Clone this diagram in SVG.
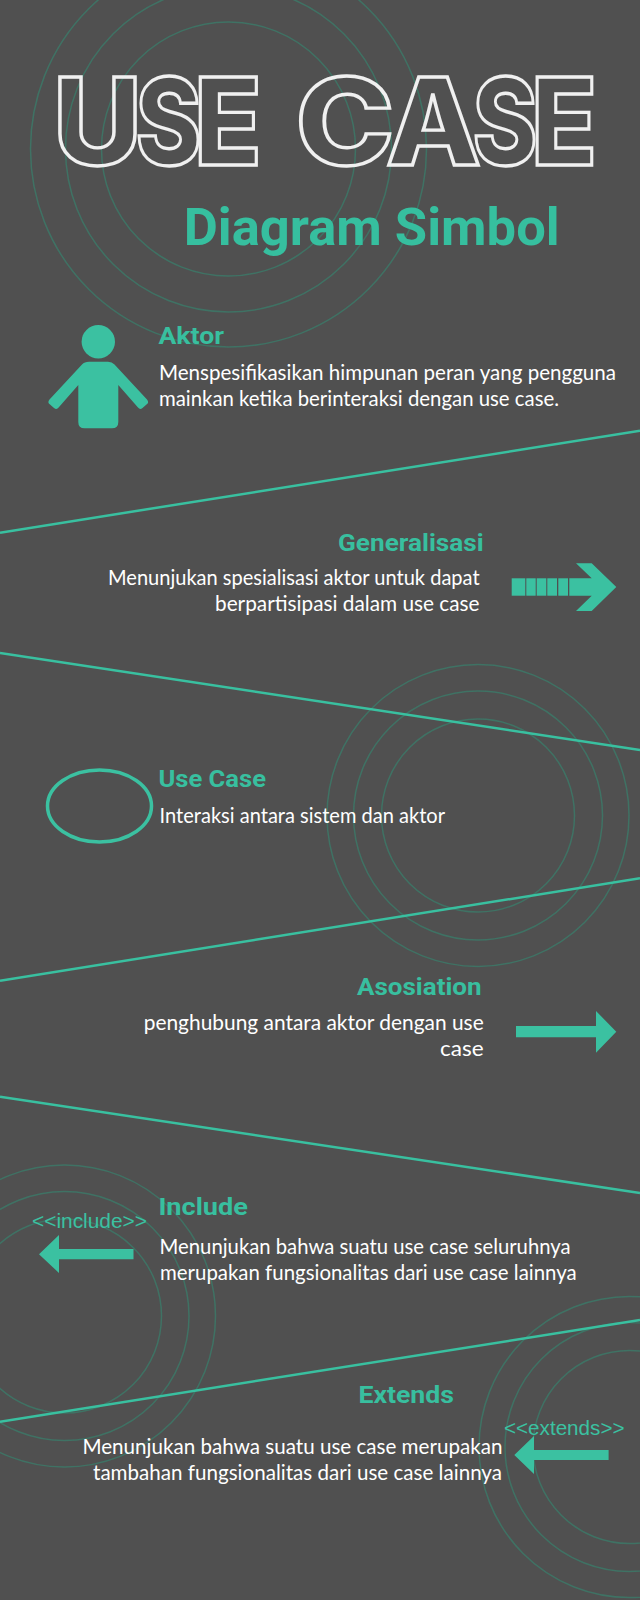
<svg xmlns="http://www.w3.org/2000/svg" width="640" height="1600" viewBox="0 0 640 1600">
<style>
.ring{fill:none;stroke:#3f7264;stroke-width:1.5}
.rule{stroke:#39c0a0;stroke-width:2.5;fill:none}
.teal{fill:#3bc1a1}
.big{font-family:"Inter","Liberation Sans",sans-serif;font-weight:800;font-size:120.6px;fill:none;stroke:#f0f0f0;stroke-width:3.4}
.head{font-family:"Roboto","Liberation Sans",sans-serif;font-weight:700;font-size:24.5px;fill:#38bf9f}
.body{font-family:"Lato","Liberation Sans",sans-serif;font-weight:400;font-size:21.5px;fill:#fff}
.tag{font-family:"Liberation Sans",sans-serif;font-size:21px;fill:#3bc1a1}
</style>
<rect width="640" height="1600" fill="#505050"/>
<g id="rings">
<circle class="ring" cx="228.5" cy="149" r="198"/><circle class="ring" cx="228.5" cy="149" r="163"/><circle class="ring" cx="228.5" cy="149" r="127"/>
<circle class="ring" cx="478" cy="815.5" r="151"/><circle class="ring" cx="478" cy="815.5" r="124.5"/><circle class="ring" cx="478" cy="815.5" r="96.5"/>
<circle class="ring" cx="64.5" cy="1316" r="151"/><circle class="ring" cx="64.5" cy="1316" r="124.5"/><circle class="ring" cx="64.5" cy="1316" r="97"/>
<circle class="ring" cx="629.5" cy="1447" r="150.5"/><circle class="ring" cx="629.5" cy="1447" r="124.5"/><circle class="ring" cx="629.5" cy="1447" r="96.5"/>
</g>
<g id="connectors">
<line class="rule" x1="0" y1="532.7" x2="640" y2="430.7"/>
<line class="rule" x1="0" y1="653" x2="640" y2="750"/>
<line class="rule" x1="0" y1="980.7" x2="640" y2="878.3"/>
<line class="rule" x1="0" y1="1096.7" x2="640" y2="1193"/>
<line class="rule" x1="0" y1="1421.7" x2="640" y2="1320"/>
</g>
<g id="title">
<text class="big" y="165.2"><tspan x="53" textLength="89" lengthAdjust="spacingAndGlyphs">U</tspan><tspan x="135.5" textLength="66" lengthAdjust="spacingAndGlyphs">S</tspan><tspan x="194" textLength="67.7" lengthAdjust="spacingAndGlyphs">E</tspan> <tspan x="295.5" textLength="99" lengthAdjust="spacingAndGlyphs">C</tspan><tspan x="386" textLength="95" lengthAdjust="spacingAndGlyphs">A</tspan><tspan x="472.5" textLength="65" lengthAdjust="spacingAndGlyphs">S</tspan><tspan x="531" textLength="66" lengthAdjust="spacingAndGlyphs">E</tspan></text>
<text x="183.7" y="245" textLength="376" lengthAdjust="spacingAndGlyphs" style="font-family:Roboto,'Liberation Sans',sans-serif;font-weight:700;font-size:52px;fill:#36bf9f">Diagram Simbol</text>
</g>
<g id="aktor">
<circle class="teal" cx="98.3" cy="341.7" r="16.7"/>
<path class="teal" d="M89 361.7H108Q112 361.7 114.5 364.5L147 399.5Q149.5 402.5 146.5 404.5L142.5 408Q140 410 138 407.5L118.3 385V422Q118.3 428.3 112 428.3H84.5Q78.3 428.3 78.3 422V385L58.6 407.5Q56.7 410 54 408L50 404.5Q47 402.5 49.5 399.5L82 364.5Q84.5 361.7 89 361.7Z"/>
<text class="head" x="158.4" y="344" textLength="65.6" lengthAdjust="spacingAndGlyphs">Aktor</text>
<text class="body" x="159" y="380" textLength="457" lengthAdjust="spacingAndGlyphs">Menspesifikasikan himpunan peran yang pengguna</text>
<text class="body" x="159" y="406" textLength="400" lengthAdjust="spacingAndGlyphs">mainkan ketika berinteraksi dengan use case.</text>
</g>
<g id="generalisasi">
<text class="head" x="338" y="550.7" textLength="145.7" lengthAdjust="spacingAndGlyphs">Generalisasi</text>
<text class="body" x="108" y="585" textLength="371.6" lengthAdjust="spacingAndGlyphs">Menunjukan spesialisasi aktor untuk dapat</text>
<text class="body" x="215" y="611" textLength="264.6" lengthAdjust="spacingAndGlyphs">berpartisipasi dalam use case</text>
<g class="teal">
<rect x="511.7" y="578.3" width="13.6" height="17.4"/><rect x="526.3" y="578.3" width="9.4" height="17.4"/><rect x="536.7" y="578.3" width="9.6" height="17.4"/><rect x="547.3" y="578.3" width="9.7" height="17.4"/><rect x="558.3" y="578.3" width="9.7" height="17.4"/>
<polygon points="569.3,578.3 591.7,578.3 576,563.3 591.7,563.3 616.3,587 591.7,611 576,611 591.7,595.7 569.3,595.7"/>
</g>
</g>
<g id="usecase">
<ellipse cx="99.5" cy="806" rx="52" ry="36" fill="none" stroke="#3bc1a1" stroke-width="3.5"/>
<text class="head" x="158.4" y="787.3" textLength="107.6" lengthAdjust="spacingAndGlyphs">Use Case</text>
<text class="body" x="159.6" y="822.7" textLength="285.4" lengthAdjust="spacingAndGlyphs">Interaksi antara sistem dan aktor</text>
</g>
<g id="asosiation">
<text class="head" x="357" y="995.3" textLength="124.6" lengthAdjust="spacingAndGlyphs">Asosiation</text>
<text class="body" x="143.7" y="1030" textLength="340" lengthAdjust="spacingAndGlyphs">penghubung antara aktor dengan use</text>
<text class="body" x="440" y="1056" textLength="43.7" lengthAdjust="spacingAndGlyphs">case</text>
<polygon class="teal" points="516,1026 596,1026 596,1011 616.3,1031.7 596,1052.7 596,1037.3 516,1037.3"/>
</g>
<g id="include">
<text class="head" x="158.4" y="1215" textLength="89.6" lengthAdjust="spacingAndGlyphs">Include</text>
<text class="tag" x="32" y="1228" textLength="115" lengthAdjust="spacingAndGlyphs">&lt;&lt;include&gt;&gt;</text>
<polygon class="teal" points="133.5,1249 59,1249 59,1235 39,1254.3 59,1273 59,1259.3 133.5,1259.3"/>
<text class="body" x="159.6" y="1254" textLength="411" lengthAdjust="spacingAndGlyphs">Menunjukan bahwa suatu use case seluruhnya</text>
<text class="body" x="160" y="1280" textLength="416.7" lengthAdjust="spacingAndGlyphs">merupakan fungsionalitas dari use case lainnya</text>
</g>
<g id="extends">
<text class="head" x="358.4" y="1403" textLength="95.6" lengthAdjust="spacingAndGlyphs">Extends</text>
<text class="tag" x="504" y="1434.7" textLength="120.5" lengthAdjust="spacingAndGlyphs">&lt;&lt;extends&gt;&gt;</text>
<polygon class="teal" points="608.6,1450 534,1450 534,1436 514.3,1455 534,1474 534,1460 608.6,1460"/>
<text class="body" x="82.4" y="1454" textLength="420" lengthAdjust="spacingAndGlyphs">Menunjukan bahwa suatu use case merupakan</text>
<text class="body" x="93" y="1480" textLength="409" lengthAdjust="spacingAndGlyphs">tambahan fungsionalitas dari use case lainnya</text>
</g>
</svg>
